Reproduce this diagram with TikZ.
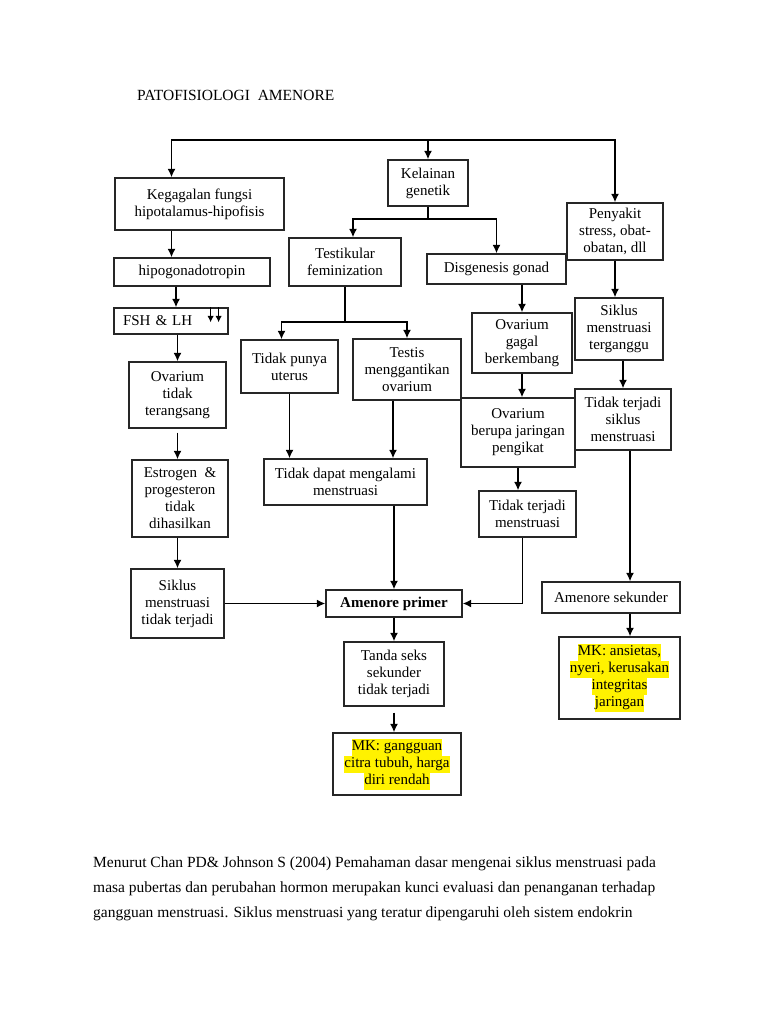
\documentclass[tikz,border=0pt]{standalone}
\usepackage{fontspec}
\setmainfont{Liberation Serif}
\usepackage{tikz}
\usetikzlibrary{arrows.meta}
\newcommand{\stabilo}[1]{{\setlength{\fboxsep}{0pt}\colorbox{yellow}{\strut #1}}}

\begin{document}
\begin{tikzpicture}[x=1pt, y=-1pt,
    kotak/.style={draw=black!85, line width=1.2pt, align=center, inner sep=2pt, font=\fontsize{15}{17}\selectfont},
    panah/.style={-{Latex[length=8.5pt,width=8pt]}, line width=1.9pt},
    garis/.style={line width=1.9pt}]
    \fill[white] (0,0) rectangle (768,1024);
    \useasboundingbox (0,0) rectangle (768,1024);

    \node[anchor=base west, inner sep=0pt, font=\fontsize{15.5}{18}\selectfont] (judul) at (137,101) {PATOFISIOLOGI\ \ AMENORE};

    % kolom kiri
    \node[kotak, minimum width=169pt, minimum height=52pt] (kegagalan) at (199.5,204) {Kegagalan fungsi\\hipotalamus-hipofisis};
    \node[kotak, minimum width=156pt, minimum height=28pt] (hipo) at (192,272) {hipogonadotropin};
    \node[kotak, text width=96pt, align=left, inner xsep=9pt, minimum height=26pt] (fsh) at (171,321) {FSH \& LH};
    \node[kotak, minimum width=97pt, minimum height=66pt] (ovarium1) at (177.5,395) {Ovarium\\tidak\\terangsang};
    \node[kotak, minimum width=96pt, minimum height=77pt] (estrogen) at (180,498.5) {Estrogen\ \ \&\\progesteron\\tidak\\dihasilkan};
    \node[kotak, minimum width=93pt, minimum height=69pt] (siklus1) at (177.5,603.5) {Siklus\\menstruasi\\tidak terjadi};

    % kolom tengah
    \node[kotak, minimum width=80pt, minimum height=46pt] (kelainan) at (428,183) {Kelainan\\genetik};
    \node[kotak, minimum width=112pt, minimum height=48pt] (testikular) at (345,262) {Testikular\\feminization};
    \node[kotak, minimum width=139pt, minimum height=30pt] (disgenesis) at (496.5,269) {Disgenesis gonad};
    \node[kotak, minimum width=97pt, minimum height=53pt] (uterus) at (289.5,366.5) {Tidak punya\\uterus};
    \node[kotak, minimum width=108pt, minimum height=61pt] (testis) at (407,369.5) {Testis\\menggantikan\\ovarium};
    \node[kotak, minimum width=163pt, minimum height=46pt] (tdkdapat) at (345.5,482) {Tidak dapat mengalami\\menstruasi};
    \node[kotak, minimum width=100pt, minimum height=60pt] (ovgagal) at (522,343) {Ovarium\\gagal\\berkembang};
    \node[kotak, minimum width=114pt, minimum height=69pt] (ovberupa) at (518,432.5) {Ovarium\\berupa jaringan\\pengikat};
    \node[kotak, minimum width=97pt, minimum height=46pt] (tdkmens) at (527.5,514) {Tidak terjadi\\menstruasi};
    \node[kotak, minimum width=136pt, minimum height=27pt, font=\fontsize{15}{17}\selectfont\bfseries] (amenore) at (394,603.5) {Amenore primer};
    \node[kotak, minimum width=100pt, minimum height=64pt] (tanda) at (394,674) {Tanda seks\\sekunder\\tidak terjadi};
    \node[kotak, minimum width=128pt, minimum height=62pt] (mk1) at (397,764) {\stabilo{MK: gangguan}\\\stabilo{citra tubuh, harga}\\\stabilo{diri rendah}};

    % kolom kanan
    \node[kotak, minimum width=96pt, minimum height=57pt] (penyakit) at (615,231.5) {Penyakit\\stress, obat-\\obatan, dll};
    \node[kotak, minimum width=88pt, minimum height=62pt] (siklus2) at (619,329) {Siklus\\menstruasi\\terganggu};
    \node[kotak, minimum width=96pt, minimum height=61pt] (tdksiklus) at (623,419.5) {Tidak terjadi\\siklus\\menstruasi};
    \node[kotak, minimum width=138pt, minimum height=31pt] (amensek) at (611,597.5) {Amenore sekunder};
    \node[kotak, minimum width=121pt, minimum height=82pt] (mk2) at (619.5,678) {\stabilo{MK: ansietas,}\\\stabilo{nyeri, kerusakan}\\\stabilo{integritas}\\\stabilo{jaringan}};

    % garis atas
    \coordinate (atas) at (428,140);
    \coordinate (k0) at ([xshift=-28pt]kegagalan.north);
    \draw[panah] (atas) -| (k0);
    \draw[panah] (atas) -- (kelainan.north);
    \draw[panah] (atas) -| (penyakit.north);

    % panah kiri
    \coordinate (k1) at ([xshift=-28pt]kegagalan.south);
    \draw[panah] (k1) -- (k1 |- hipo.north);
    \coordinate (h1) at ([xshift=-16pt]hipo.south);
    \draw[panah] (h1) -- (h1 |- fsh.north);
    \foreach \dx in {-18,-10}
        \draw[-{Latex[length=6.5pt,width=6.5pt]}, line width=1.7pt] ([xshift=\dx pt]fsh.north east) -- ++(0,15);
    \draw[panah] (ovarium1.north |- fsh.south) -- (ovarium1.north);
    \draw[panah, shorten <=4pt] (ovarium1.south) -- (ovarium1.south |- estrogen.north);
    \draw[panah] (siklus1.north |- estrogen.south) -- (siklus1.north);
    \draw[panah] (siklus1.east) -- (amenore.west);

    % cabang kelainan genetik
    \coordinate (cabang1) at (428,219);
    \coordinate (t0) at ([xshift=8pt]testikular.north);
    \draw[garis] (kelainan.south) -- (cabang1);
    \draw[panah] (cabang1) -| (t0);
    \draw[panah] (cabang1) -| (disgenesis.north);

    % cabang testikular
    \coordinate (cabang2) at (345,322);
    \coordinate (u0) at ([xshift=-8pt]uterus.north);
    \draw[garis] (testikular.south) -- (cabang2);
    \draw[panah] (cabang2) -| (u0);
    \draw[panah] (cabang2) -| (testis.north);
    \draw[panah] (uterus.south) -- (uterus.south |- tdkdapat.north);
    \coordinate (ts1) at ([xshift=-14pt]testis.south);
    \draw[panah] (ts1) -- (ts1 |- tdkdapat.north);
    \draw[panah] (amenore.north |- tdkdapat.south) -- (amenore.north);

    % cabang disgenesis
    \draw[panah] (ovgagal.north |- disgenesis.south) -- (ovgagal.north);
    \draw[panah] (ovgagal.south) -- (ovgagal.south |- ovberupa.north);
    \draw[panah] (ovberupa.south) -- (ovberupa.south |- tdkmens.north);
    \coordinate (tm1) at ([xshift=-5pt]tdkmens.south);
    \draw[panah] (tm1) |- (amenore.east);

    % bawah tengah
    \draw[panah] (amenore.south) -- (amenore.south |- tanda.north);
    \draw[panah, shorten <=6pt] (tanda.south) -- (tanda.south |- mk1.north);

    % kanan
    \draw[panah] (penyakit.south) -- (penyakit.south |- siklus2.north);
    \draw[panah] (tdksiklus.north |- siklus2.south) -- (tdksiklus.north);
    \coordinate (s1) at ([xshift=7pt]tdksiklus.south);
    \draw[panah] (s1) -- (s1 |- amensek.north);
    \coordinate (s2) at ([xshift=19pt]amensek.south);
    \draw[panah] (s2) -- (s2 |- mk2.north);

    \node[anchor=north west, align=left, inner sep=0pt, font=\fontsize{15.5}{25}\selectfont] (paragraf) at (93,857) {Menurut Chan PD\& Johnson S (2004) Pemahaman dasar mengenai siklus menstruasi pada\\masa pubertas dan perubahan hormon merupakan kunci evaluasi dan penanganan terhadap\\gangguan menstruasi. Siklus menstruasi yang teratur dipengaruhi oleh sistem endokrin};
\end{tikzpicture}
\end{document}
